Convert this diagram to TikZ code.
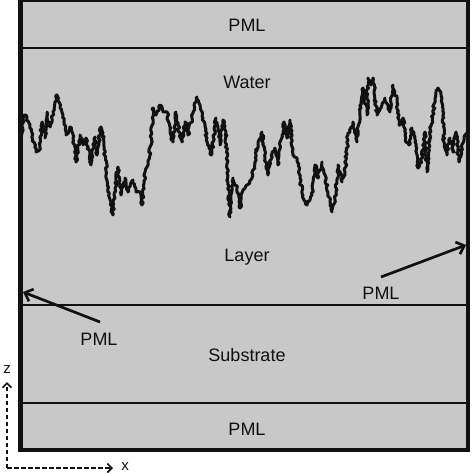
\documentclass[tikz,border=0pt]{standalone}
\usepackage{fontspec}
\setmainfont{Liberation Sans}
\usetikzlibrary{arrows.meta,decorations.pathmorphing}
\definecolor{bggray}{HTML}{C8C8C8}
\definecolor{ink}{HTML}{111111}
\tikzset{
  lbl/.style={font=\fontsize{18}{20}\selectfont, text=ink, inner sep=0pt},
  sep/.style={line width=2.4pt, draw=ink},
  pmlarrow/.style={line width=2.7pt, draw=ink, -{Straight Barb[length=7pt,width=13pt,line width=2.6pt]}},
  axisarrow/.style={line width=1.7pt, draw=ink, dash pattern=on 4.5pt off 2.5pt, -{Straight Barb[length=4.5pt,width=9pt,line width=1.7pt]}},
  rough/.style={line width=3pt, draw=ink, line join=round, line cap=round,
    decorate, decoration={random steps, segment length=2.2pt, amplitude=1.3pt}}
}
\begin{document}
\pgfmathsetseed{7}
\begin{tikzpicture}[x=1pt,y=-1pt]
\useasboundingbox (0,0) rectangle (474,474);
\fill[white] (0,0) rectangle (474,474);
\fill[bggray] (20,0) rectangle (469,450);
% frame
\draw[ink, line width=2pt] (20,1) -- (469,1);
\draw[ink, line width=3.5pt] (20,450) -- (469,450);
\draw[ink, line width=5pt] (20,0) -- (20,451.75);
\draw[ink, line width=3.5pt] (468,0) -- (468,451.75);
% separators
\coordinate (s1l) at (20,48); \coordinate (s1r) at (468,48);
\coordinate (s2l) at (20,305); \coordinate (s2r) at (468,305);
\coordinate (s3l) at (20,403); \coordinate (s3r) at (468,403);
\draw[sep] (s1l) -- (s1r);
\draw[sep] (s2l) -- (s2r);
\draw[sep] (s3l) -- (s3r);
% rough interface
\draw[rough] plot coordinates {
(22,135) (24,115) (26,115) (30,128) (36,152) (40,148) (42,122) (45,138) (47,112) (50,127)
(53,112) (57,95) (60,108) (63,115) (66,135) (70,127) (73,138) (76,162) (80,135) (83,145)
(86,138) (91,165) (95,137) (97,155) (101,127) (104,142) (108,192) (113,215) (115,188) (118,167)
(121,195) (125,178) (128,192) (133,180) (136,192) (140,192) (142,205) (145,172) (148,165) (151,145)
(153,108) (156,115) (160,105) (163,112) (167,112) (170,132) (173,142) (176,112) (178,125) (182,142)
(185,122) (188,135) (192,118) (197,97) (200,105) (203,118) (207,138) (211,155) (213,142) (216,118)
(218,128) (220,145) (223,120) (226,132) (228,182) (230,217) (233,178) (237,188) (240,208) (243,190)
(247,185) (252,178) (255,162) (258,142) (262,132) (265,158) (268,175) (272,152) (275,148) (278,165)
(282,135) (284,122) (287,138) (290,120) (293,155) (297,158) (300,178) (303,195) (307,205) (312,195)
(315,165) (318,178) (322,162) (325,175) (328,192) (332,212) (335,198) (338,165) (342,182) (345,172)
(348,135) (350,132) (353,122) (357,142) (360,112) (363,88) (367,115) (368,78) (371,85) (373,78)
(377,115) (382,105) (385,98) (388,105) (390,112) (393,85) (397,102) (400,125) (403,118) (406,142)
(409,145) (412,128) (415,142) (418,168) (422,158) (425,132) (427,172) (430,135) (435,98) (438,88)
(442,98) (444,142) (447,155) (450,138) (453,152) (456,132) (459,162) (462,148) (465,135) (467,132)};
% labels
\node[lbl] (pmltop) at (247,25) {PML};
\node[lbl] (water) at (247,82) {Water};
\node[lbl] (layer) at (247,257) {Layer};
\node[lbl] (substrate) at (247,355) {Substrate};
\node[lbl] (pmlbot) at (247,429) {PML};
\node[lbl] (pmlleft) at (99,339) {PML};
\node[lbl] (pmlright) at (381,293) {PML};
% PML arrows
\coordinate (la0) at (100,322); \coordinate (la1) at (23,292);
\coordinate (ra0) at (381,277); \coordinate (ra1) at (466,245);
\draw[pmlarrow] (la0) -- (la1);
\draw[pmlarrow] (ra0) -- (ra1);
% axes
\coordinate (o) at (7,468);
\coordinate (zt) at (7,382);
\coordinate (xt) at (113,468);
\draw[axisarrow] (o) -- (zt);
\draw[axisarrow] (o) -- (xt);
\node[lbl, font=\fontsize{15}{17}\selectfont] (zl) at (7,370) {z};
\node[lbl, font=\fontsize{15}{17}\selectfont] (xl) at (125,467) {x};
\end{tikzpicture}
\end{document}
